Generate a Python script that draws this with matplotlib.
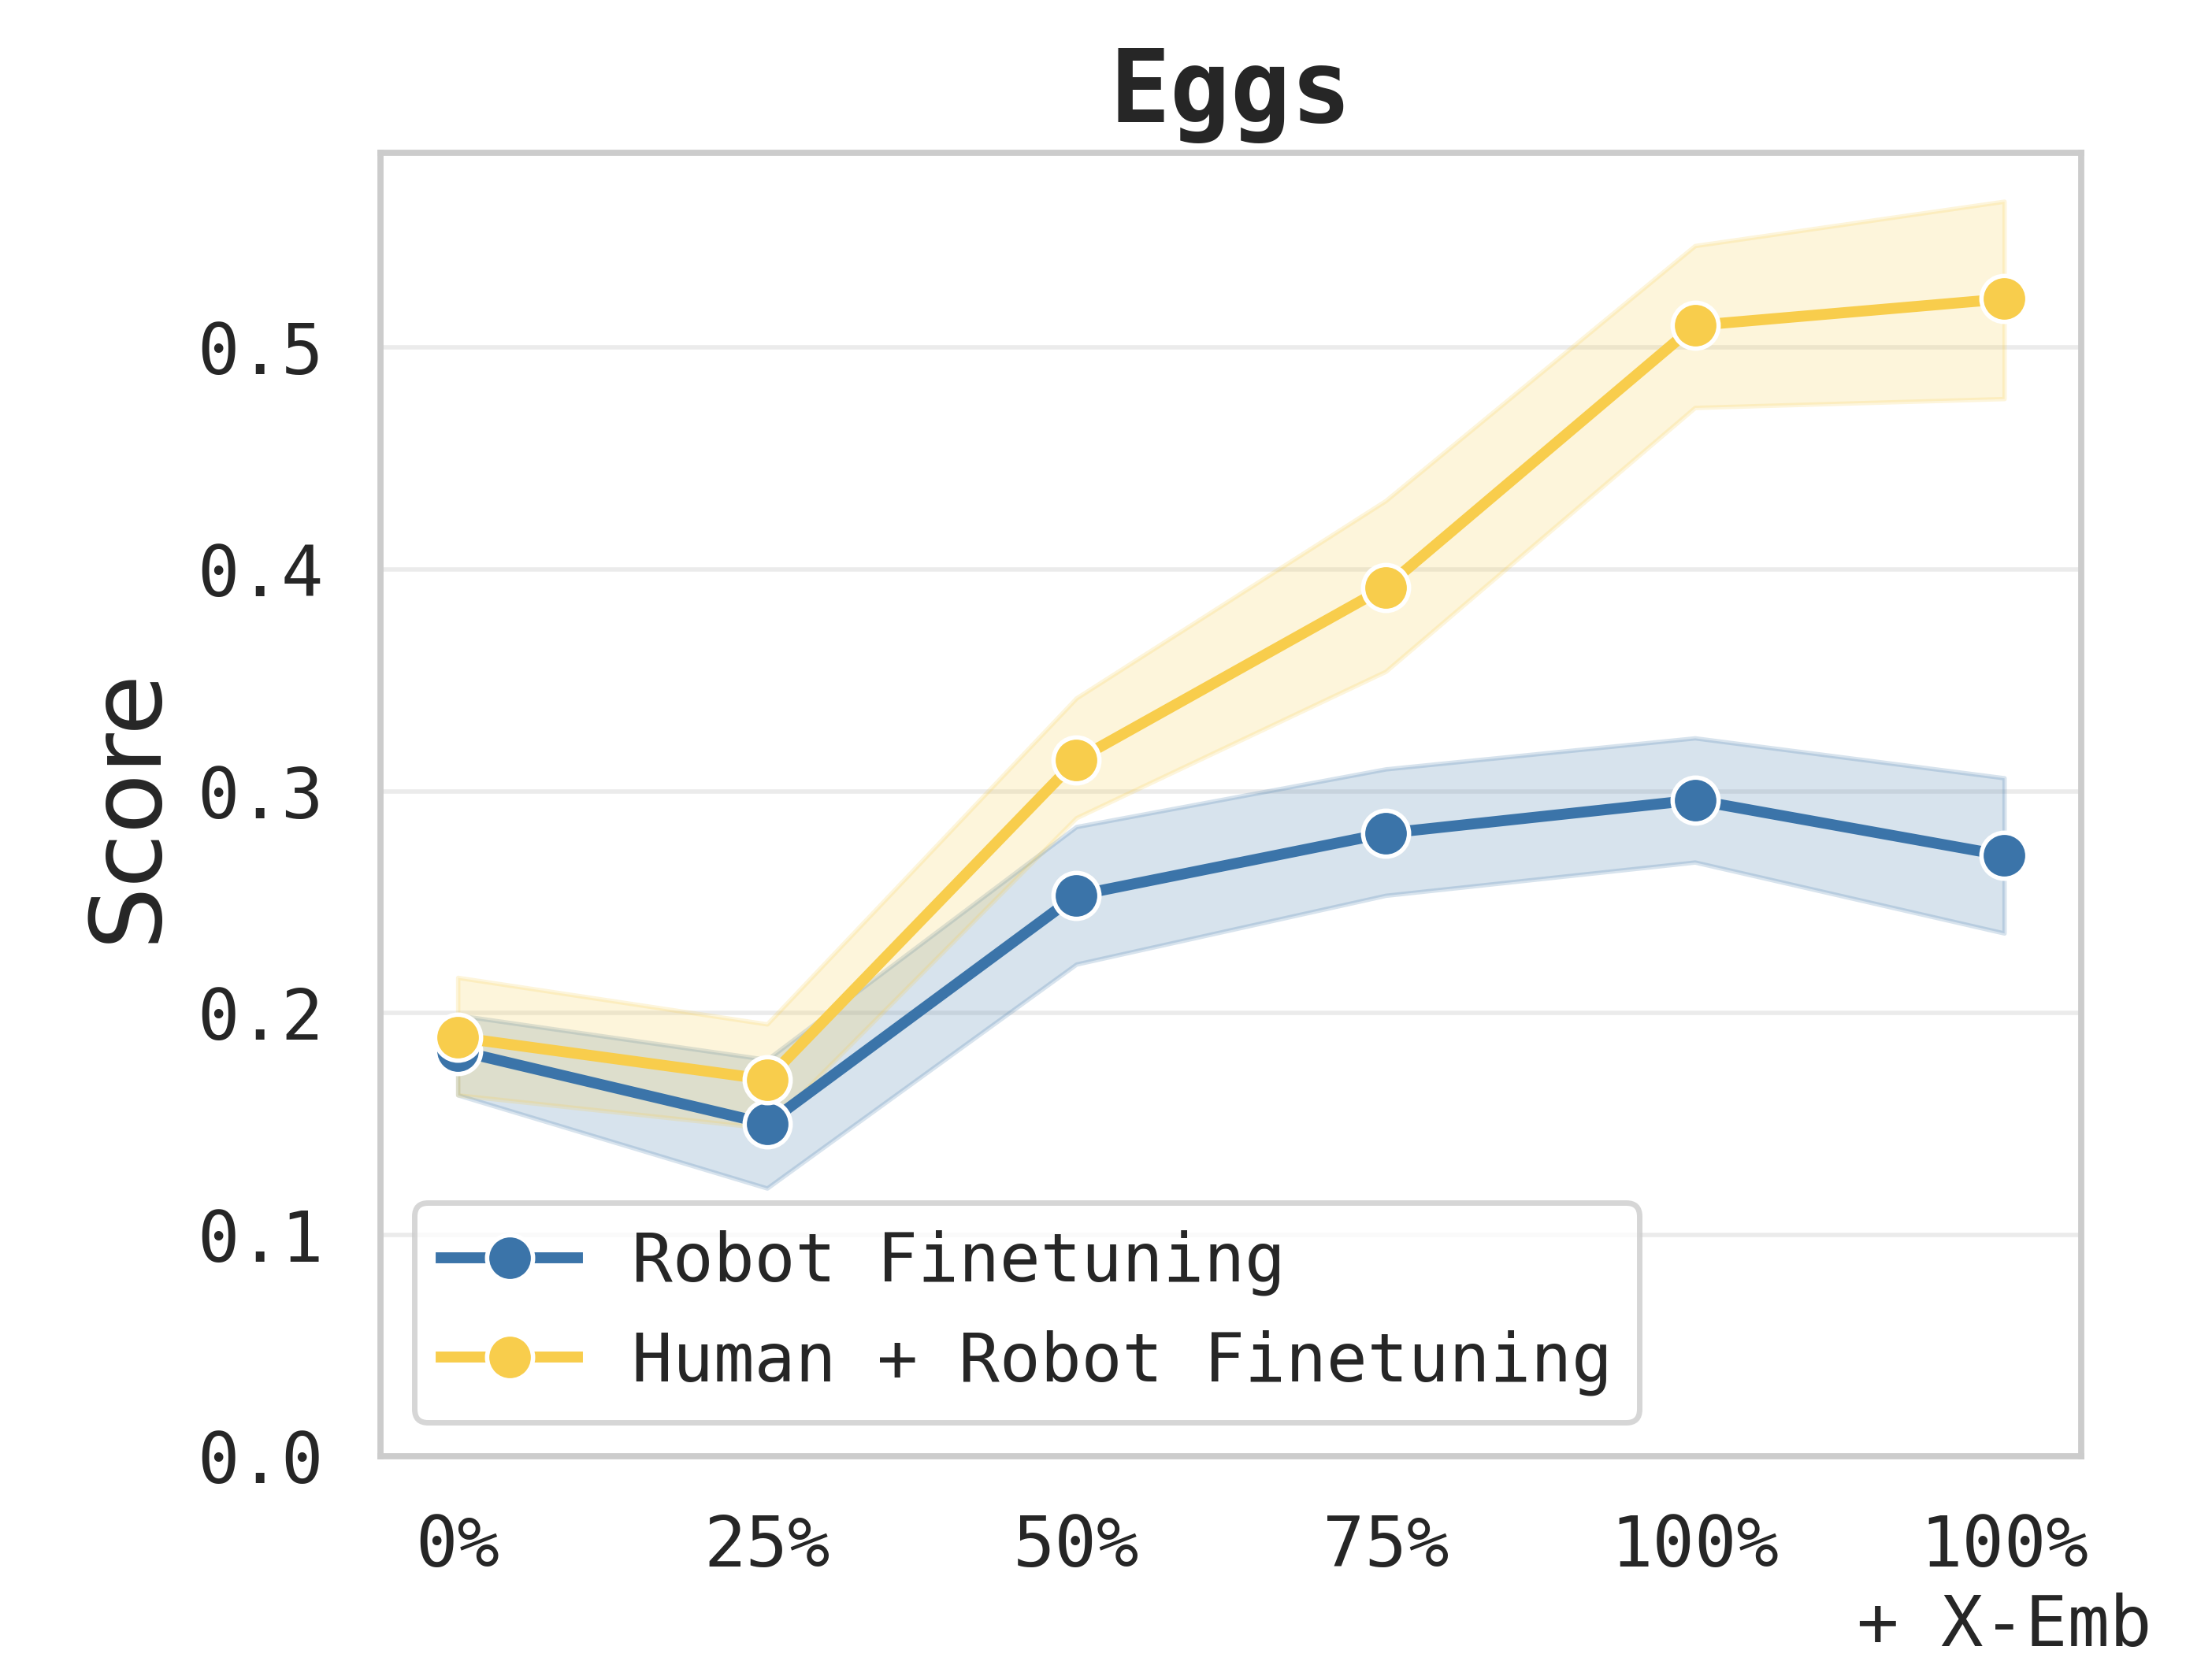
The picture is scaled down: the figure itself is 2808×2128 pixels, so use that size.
import numpy as np
import matplotlib
matplotlib.use("Agg")
import matplotlib.pyplot as plt

# data
x_labels = ['0%', '25%', '50%', '75%', '100%', '100%\n+ X-Emb']
robot_mean = [0.183, 0.150, 0.253, 0.281, 0.296, 0.271]
robot_lo = [0.163, 0.121, 0.222, 0.253, 0.268, 0.236]
robot_hi = [0.199, 0.179, 0.284, 0.310, 0.324, 0.306]
human_mean = [0.189, 0.170, 0.314, 0.392, 0.510, 0.522]
human_lo = [0.163, 0.148, 0.288, 0.354, 0.473, 0.477]
human_hi = [0.216, 0.195, 0.342, 0.431, 0.546, 0.566]

BLUE = '#3b74a9'
YELLOW = '#f8cd4c'
MONO = 'DejaVu Sans Mono'

fig = plt.figure(figsize=(14.04, 10.64), dpi=200)
ax = fig.add_axes([0.172, 0.131, 0.769, 0.778])

x = np.arange(len(x_labels))
series = [
    ('Robot Finetuning', robot_mean, robot_lo, robot_hi, BLUE),
    ('Human + Robot Finetuning', human_mean, human_lo, human_hi, YELLOW),
]
for label, mean, lo, hi, color in series:
    ax.plot(x, mean, color=color, lw=5, marker='o', markersize=21,
            markeredgecolor='white', markeredgewidth=2, label=label, zorder=3)
    ax.fill_between(x, lo, hi, color=color, alpha=0.2, lw=2, zorder=2)

ax.set_xlim(-0.25, 5.25)
ax.set_ylim(0, 0.588)
ax.set_yticks([0.0, 0.1, 0.2, 0.3, 0.4, 0.5])
ax.set_yticklabels(['0.0', '0.1', '0.2', '0.3', '0.4', '0.5'], family=MONO, fontsize=32)
ax.set_xticks(x)
ax.set_xticklabels(x_labels, family=MONO, fontsize=32)
ax.tick_params(axis='both', length=0, pad=26, colors='#262626')

ax.grid(axis='y', color='#ebebeb', lw=2)
ax.set_axisbelow(True)
for sp in ax.spines.values():
    sp.set_color('#cccccc')
    sp.set_linewidth(2.8)

ax.set_title('Eggs', family=MONO, fontweight='bold', fontsize=46, color='#262626', pad=14)
ax.set_ylabel('Score', family='DejaVu Sans', fontsize=45, color='#262626', labelpad=10)

leg = ax.legend(loc='lower left', prop={'family': MONO, 'size': 31}, frameon=True,
                fancybox=True, borderaxespad=0.5)
leg.get_frame().set_edgecolor('#cccccc')
leg.get_frame().set_linewidth(2.5)
for t in leg.get_texts():
    t.set_color('#262626')

fig.savefig('out.png', dpi=200)
